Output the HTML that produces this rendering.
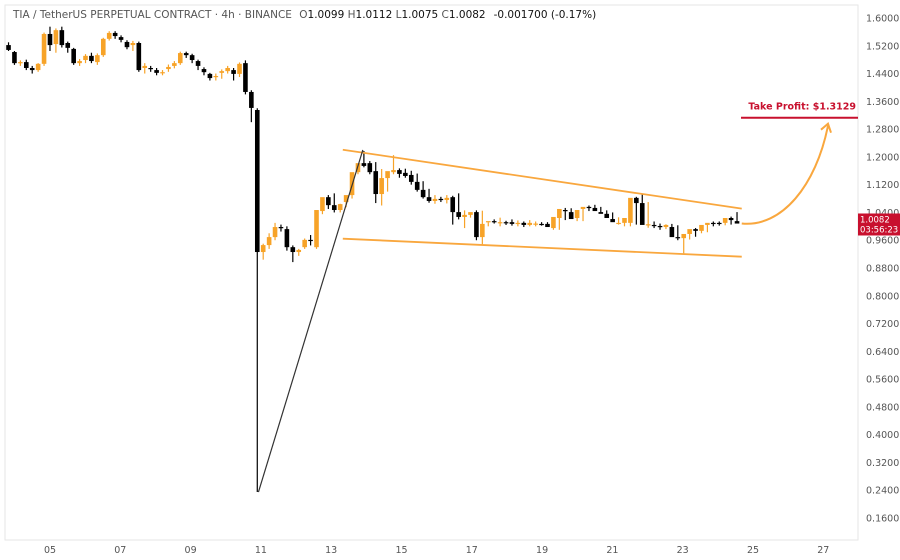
<!DOCTYPE html>
<html><head><meta charset="utf-8"><style>
body{margin:0;background:#fff;width:900px;height:560px;overflow:hidden;font-family:"DejaVu Sans","Liberation Sans",sans-serif}
svg{display:block}
</style></head><body>
<svg id="chart" width="900" height="560" xmlns="http://www.w3.org/2000/svg">
<rect x="5" y="5" width="853" height="535" fill="#fff" stroke="#e6e6e6"/>
<g id="yaxis"></g>
<g id="xaxis"></g>
<g id="candles"></g>
<g id="draw"></g>
<text x="13" y="18" font-size="10.5" fill="#555">TIA / TetherUS PERPETUAL CONTRACT · 4h · BINANCE <tspan dx="4">O</tspan><tspan fill="#111">1.0099</tspan> H<tspan fill="#111">1.0112</tspan> L<tspan fill="#111">1.0075</tspan> C<tspan fill="#111">1.0082</tspan><tspan dx="8" fill="#111">-0.001700 (-0.17%)</tspan></text>
</svg>
<script>
const yTicks=[1.6,1.52,1.44,1.36,1.28,1.2,1.12,1.04,0.96,0.88,0.80,0.72,0.64,0.56,0.48,0.40,0.32,0.24,0.16];
const xTicks=[5,7,9,11,13,15,17,19,21,23,25,27];
const opens=[1.522,1.502,1.470,1.473,1.456,1.450,1.468,1.554,1.525,1.565,1.528,1.511,1.470,1.479,1.491,1.473,1.493,1.540,1.557,1.545,1.531,1.522,1.528,1.456,1.456,1.450,1.442,1.453,1.462,1.470,1.499,1.493,1.476,1.453,1.439,1.430,1.442,1.447,1.450,1.439,1.470,1.387,1.335,
0.926,0.946,0.969,0.998,0.992,0.940,0.926,0.940,0.961,0.940,1.044,1.084,1.061,1.047,1.070,1.090,1.156,1.182,1.182,1.159,1.093,1.139,1.156,1.162,1.154,1.148,1.128,1.105,1.084,1.073,1.079,1.076,1.084,1.041,1.027,1.033,1.041,0.969,1.012,1.015,1.010,1.012,1.012,1.007,1.010,1.004,
1.007,1.007,1.007,0.995,1.024,1.047,1.041,1.024,1.050,1.056,1.053,1.041,1.036,1.021,1.007,1.010,1.010,1.082,1.067,1.004,1.004,1.001,0.998,0.998,0.969,0.966,0.978,0.992,0.987,1.004,1.010,1.010,1.010,1.024,1.015];
const closes=[1.508,1.470,1.473,1.456,1.450,1.468,1.554,1.522,1.565,1.522,1.514,1.470,1.476,1.491,1.476,1.493,1.540,1.557,1.548,1.537,1.516,1.528,1.450,1.462,1.453,1.442,1.444,1.459,1.470,1.499,1.493,1.479,1.462,1.444,1.427,1.433,1.447,1.456,1.439,1.468,1.387,1.341,0.926,
0.946,0.969,0.998,0.995,0.940,0.926,0.932,0.961,0.958,1.047,1.084,1.061,1.047,1.064,1.090,1.156,1.182,1.174,1.156,1.093,1.139,1.159,1.162,1.151,1.145,1.128,1.105,1.084,1.073,1.079,1.076,1.082,1.041,1.027,1.033,1.041,0.969,1.007,1.015,1.012,1.012,1.010,1.007,1.010,1.004,1.010,
1.008,1.006,0.998,1.027,1.050,1.044,1.021,1.047,1.056,1.053,1.044,1.036,1.024,1.012,1.010,1.024,1.082,1.067,1.004,1.006,1.001,0.998,1.004,0.969,0.966,0.978,0.992,0.987,1.004,1.010,1.007,1.008,1.024,1.018,1.008];
const highs=[1.530,1.505,1.478,1.480,1.462,1.470,1.558,1.575,1.570,1.575,1.532,1.514,1.482,1.496,1.500,1.498,1.543,1.562,1.562,1.550,1.536,1.534,1.532,1.470,1.462,1.456,1.450,1.466,1.476,1.503,1.503,1.497,1.480,1.458,1.442,1.440,1.452,1.462,1.456,1.472,1.478,1.392,1.340,
0.950,0.980,1.010,1.005,1.000,0.945,0.935,0.965,0.975,0.965,1.052,1.090,1.095,1.065,1.070,1.100,1.160,1.217,1.188,1.185,1.165,1.145,1.205,1.167,1.166,1.160,1.152,1.130,1.108,1.090,1.085,1.090,1.088,1.095,1.046,1.036,1.046,1.045,1.012,1.020,1.025,1.016,1.020,1.017,1.014,1.018,1.014,
1.012,1.012,1.010,1.030,1.053,1.052,1.046,1.050,1.060,1.062,1.056,1.046,1.040,1.026,1.014,1.026,1.085,1.093,1.070,1.014,1.008,1.006,1.007,1.003,0.975,0.982,0.995,0.998,1.006,1.014,1.014,1.016,1.028,1.041,1.055];
const lows=[1.505,1.465,1.462,1.450,1.440,1.445,1.462,1.505,1.500,1.515,1.500,1.465,1.462,1.470,1.470,1.465,1.488,1.535,1.540,1.530,1.510,1.505,1.445,1.440,1.445,1.435,1.435,1.445,1.455,1.465,1.485,1.470,1.450,1.435,1.420,1.420,1.425,1.440,1.420,1.430,1.380,1.300,0.235,
0.904,0.935,0.960,0.985,0.930,0.897,0.915,0.935,0.945,0.935,1.035,1.050,1.040,1.040,1.055,1.080,1.150,1.170,1.150,1.067,1.060,1.100,1.150,1.140,1.140,1.120,1.100,1.080,1.068,1.065,1.070,1.066,1.005,1.020,0.995,1.025,0.960,0.946,1.000,1.008,1.000,1.004,1.002,1.000,0.998,1.000,1.000,
1.002,1.000,0.990,0.990,1.018,1.038,1.015,1.015,1.044,1.045,1.040,1.030,1.015,1.005,1.000,1.000,1.005,1.060,0.996,0.995,0.990,0.992,0.990,0.960,0.922,0.962,0.970,0.980,0.983,1.000,1.002,1.003,1.005,1.010,1.003];
const upperLine=[[13.33,1.2206],[24.68,1.0509]];
const lowerLine=[[13.33,0.9644],[24.68,0.9126]];
const impulseLine=[[10.93,0.2348],[13.9,1.2200]];
const takeProfit=1.3129;
const lastPrice=1.0082;
const t0=3.82, step=0.1685;

const Y=p=>18+(1.6-p)/1.44*500;
const X=d=>50+(d-5)*35.15;
const NS="http://www.w3.org/2000/svg";
function mk(tag,attrs,parent){const e=document.createElementNS(NS,tag);for(const k in attrs)e.setAttribute(k,attrs[k]);parent.appendChild(e);return e;}
const ya=document.getElementById('yaxis'),xa=document.getElementById('xaxis'),cg=document.getElementById('candles'),dg=document.getElementById('draw');
yTicks.forEach(v=>{const t=mk('text',{x:866,y:Y(v)+3.5,'font-size':'9.5',fill:'#555'},ya);t.textContent=v.toFixed(4);

});
xTicks.forEach(d=>{const t=mk('text',{x:X(d),y:553,'font-size':'9.5',fill:'#555','text-anchor':'middle'},xa);t.textContent=String(d).padStart(2,'0');

});
const UP='#f7a328',DN='#000';
opens.forEach((o,i)=>{const c=closes[i],x=X(t0+i*step),col=c>=o?UP:DN;
const g=mk('g',{},cg);


mk('line',{x1:x,x2:x,y1:Y(highs[i]),y2:Y(lows[i]),stroke:col,'stroke-width':1.2},g);
const top=Y(Math.max(o,c)),h=Math.max(1.2,Math.abs(Y(o)-Y(c)));
mk('rect',{x:x-2.3,y:top,width:4.6,height:h,fill:col},g);});
function seg(pts,col,w,name){const l=mk('line',{x1:X(pts[0][0]),y1:Y(pts[0][1]),x2:X(pts[1][0]),y2:Y(pts[1][1]),stroke:col,'stroke-width':w},dg);

}
seg(upperLine,'#f9a73e',1.8,'upper-trendline');
seg(lowerLine,'#f9a73e',1.8,'lower-trendline');
seg(impulseLine,'#333',1.2,'impulse-line');
const sx=X(24.68),sy=Y(lastPrice),ex=828,ey=Y(takeProfit)+8;
const cur=mk('path',{d:`M${sx},${sy} C${sx+40},${sy+4} ${ex-12},${ey+60} ${ex},${ey}`,fill:'none',stroke:'#f9a73e','stroke-width':2},dg);


const ah=mk('path',{d:`M${ex-7},${ey+4} L${ex},${ey-2} L${ex+3},${ey+7}`,fill:'none',stroke:'#f9a73e','stroke-width':2},dg);


const tp=mk('line',{x1:741,x2:858,y1:Y(takeProfit),y2:Y(takeProfit),stroke:'#c8102e','stroke-width':2},dg);


const tpl=mk('text',{x:856,y:Y(takeProfit)-8,'font-size':'9.5','font-weight':'bold',fill:'#c8102e','text-anchor':'end'},dg);
tpl.textContent='Take Profit: $'+takeProfit.toFixed(4);


const pb=mk('rect',{x:858,y:Y(lastPrice)-10,width:42,height:22,fill:'#c8102e'},dg);


const pt=mk('text',{x:860,y:Y(lastPrice)-1,'font-size':'8.5',fill:'#fff'},dg);pt.textContent=lastPrice.toFixed(4);


const ct=mk('text',{x:860,y:Y(lastPrice)+9,'font-size':'8.5',fill:'#fff'},dg);ct.textContent='03:56:23';


</script>
</body></html>
